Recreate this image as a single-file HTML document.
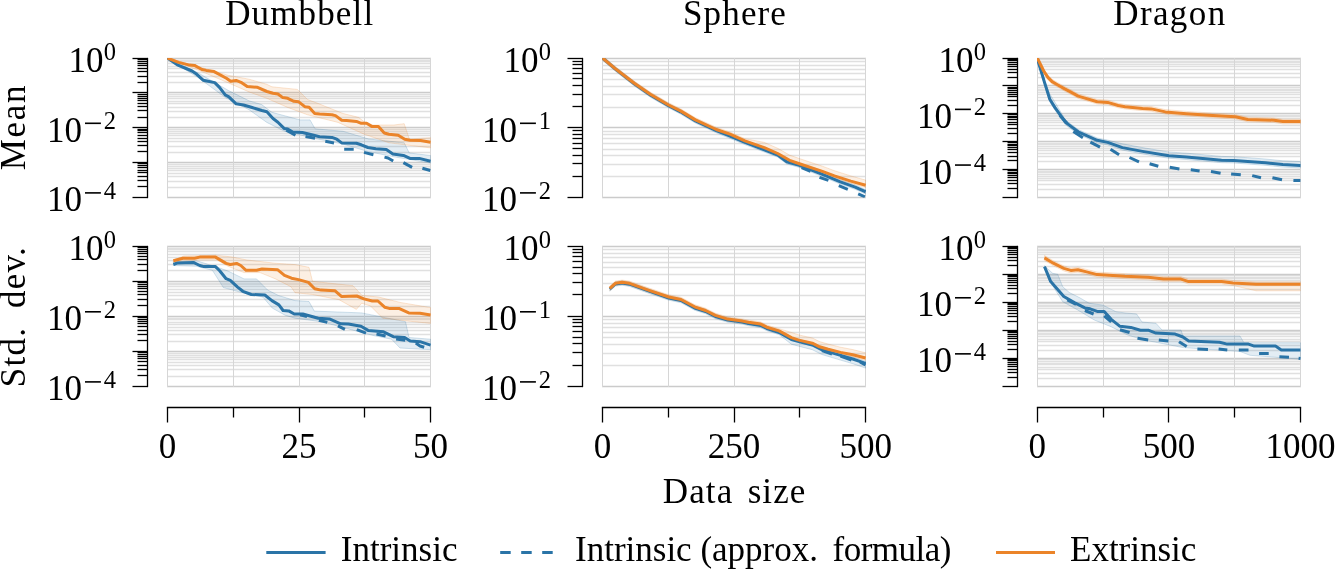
<!DOCTYPE html>
<html><head><meta charset="utf-8"><style>
html,body{margin:0;padding:0;background:#fff;width:1336px;height:570px;overflow:hidden}
svg{display:block;will-change:transform}
text{font-family:"Liberation Serif", serif;fill:#000}
</style></head><body>
<svg width="1336" height="570" viewBox="0 0 1336 570">
<line x1="167.00" x2="431.00" y1="187.50" y2="187.50" stroke="#e0e0e0" stroke-width="1.5"/>
<line x1="167.00" x2="431.00" y1="181.50" y2="181.50" stroke="#e0e0e0" stroke-width="1.5"/>
<line x1="167.00" x2="431.00" y1="176.50" y2="176.50" stroke="#e0e0e0" stroke-width="1.5"/>
<line x1="167.00" x2="431.00" y1="173.50" y2="173.50" stroke="#e0e0e0" stroke-width="1.5"/>
<line x1="167.00" x2="431.00" y1="170.50" y2="170.50" stroke="#e0e0e0" stroke-width="1.5"/>
<line x1="167.00" x2="431.00" y1="168.50" y2="168.50" stroke="#e0e0e0" stroke-width="1.5"/>
<line x1="167.00" x2="431.00" y1="166.50" y2="166.50" stroke="#e0e0e0" stroke-width="1.5"/>
<line x1="167.00" x2="431.00" y1="164.50" y2="164.50" stroke="#e0e0e0" stroke-width="1.5"/>
<line x1="167.00" x2="431.00" y1="152.50" y2="152.50" stroke="#e0e0e0" stroke-width="1.5"/>
<line x1="167.00" x2="431.00" y1="146.50" y2="146.50" stroke="#e0e0e0" stroke-width="1.5"/>
<line x1="167.00" x2="431.00" y1="141.50" y2="141.50" stroke="#e0e0e0" stroke-width="1.5"/>
<line x1="167.00" x2="431.00" y1="138.50" y2="138.50" stroke="#e0e0e0" stroke-width="1.5"/>
<line x1="167.00" x2="431.00" y1="135.50" y2="135.50" stroke="#e0e0e0" stroke-width="1.5"/>
<line x1="167.00" x2="431.00" y1="133.50" y2="133.50" stroke="#e0e0e0" stroke-width="1.5"/>
<line x1="167.00" x2="431.00" y1="131.50" y2="131.50" stroke="#e0e0e0" stroke-width="1.5"/>
<line x1="167.00" x2="431.00" y1="129.50" y2="129.50" stroke="#e0e0e0" stroke-width="1.5"/>
<line x1="167.00" x2="431.00" y1="117.50" y2="117.50" stroke="#e0e0e0" stroke-width="1.5"/>
<line x1="167.00" x2="431.00" y1="111.50" y2="111.50" stroke="#e0e0e0" stroke-width="1.5"/>
<line x1="167.00" x2="431.00" y1="107.50" y2="107.50" stroke="#e0e0e0" stroke-width="1.5"/>
<line x1="167.00" x2="431.00" y1="103.50" y2="103.50" stroke="#e0e0e0" stroke-width="1.5"/>
<line x1="167.00" x2="431.00" y1="101.50" y2="101.50" stroke="#e0e0e0" stroke-width="1.5"/>
<line x1="167.00" x2="431.00" y1="98.50" y2="98.50" stroke="#e0e0e0" stroke-width="1.5"/>
<line x1="167.00" x2="431.00" y1="96.50" y2="96.50" stroke="#e0e0e0" stroke-width="1.5"/>
<line x1="167.00" x2="431.00" y1="94.50" y2="94.50" stroke="#e0e0e0" stroke-width="1.5"/>
<line x1="167.00" x2="431.00" y1="82.50" y2="82.50" stroke="#e0e0e0" stroke-width="1.5"/>
<line x1="167.00" x2="431.00" y1="76.50" y2="76.50" stroke="#e0e0e0" stroke-width="1.5"/>
<line x1="167.00" x2="431.00" y1="72.50" y2="72.50" stroke="#e0e0e0" stroke-width="1.5"/>
<line x1="167.00" x2="431.00" y1="68.50" y2="68.50" stroke="#e0e0e0" stroke-width="1.5"/>
<line x1="167.00" x2="431.00" y1="66.50" y2="66.50" stroke="#e0e0e0" stroke-width="1.5"/>
<line x1="167.00" x2="431.00" y1="63.50" y2="63.50" stroke="#e0e0e0" stroke-width="1.5"/>
<line x1="167.00" x2="431.00" y1="61.50" y2="61.50" stroke="#e0e0e0" stroke-width="1.5"/>
<line x1="167.00" x2="431.00" y1="60.50" y2="60.50" stroke="#e0e0e0" stroke-width="1.5"/>
<line x1="167.00" x2="431.00" y1="197.50" y2="197.50" stroke="#cbcbcb" stroke-width="1.4"/>
<line x1="167.00" x2="431.00" y1="162.50" y2="162.50" stroke="#cbcbcb" stroke-width="1.4"/>
<line x1="167.00" x2="431.00" y1="127.50" y2="127.50" stroke="#cbcbcb" stroke-width="1.4"/>
<line x1="167.00" x2="431.00" y1="92.50" y2="92.50" stroke="#cbcbcb" stroke-width="1.4"/>
<line x1="167.00" x2="431.00" y1="58.50" y2="58.50" stroke="#cbcbcb" stroke-width="1.4"/>
<line x1="167.50" x2="167.50" y1="58.00" y2="198.00" stroke="#d6d6d6" stroke-width="1"/>
<line x1="233.50" x2="233.50" y1="58.00" y2="198.00" stroke="#d6d6d6" stroke-width="1"/>
<line x1="299.50" x2="299.50" y1="58.00" y2="198.00" stroke="#d6d6d6" stroke-width="1"/>
<line x1="364.50" x2="364.50" y1="58.00" y2="198.00" stroke="#d6d6d6" stroke-width="1"/>
<line x1="430.50" x2="430.50" y1="58.00" y2="198.00" stroke="#d6d6d6" stroke-width="1"/>
<line x1="147.50" x2="147.50" y1="57.85" y2="198.15" stroke="#000" stroke-width="1.3"/>
<line x1="137.50" x2="147.50" y1="186.50" y2="186.50" stroke="#000" stroke-width="1.3"/>
<line x1="137.50" x2="147.50" y1="180.50" y2="180.50" stroke="#000" stroke-width="1.3"/>
<line x1="137.50" x2="147.50" y1="176.50" y2="176.50" stroke="#000" stroke-width="1.3"/>
<line x1="137.50" x2="147.50" y1="172.50" y2="172.50" stroke="#000" stroke-width="1.3"/>
<line x1="137.50" x2="147.50" y1="170.50" y2="170.50" stroke="#000" stroke-width="1.3"/>
<line x1="137.50" x2="147.50" y1="167.50" y2="167.50" stroke="#000" stroke-width="1.3"/>
<line x1="137.50" x2="147.50" y1="165.50" y2="165.50" stroke="#000" stroke-width="1.3"/>
<line x1="137.50" x2="147.50" y1="163.50" y2="163.50" stroke="#000" stroke-width="1.3"/>
<line x1="137.50" x2="147.50" y1="151.50" y2="151.50" stroke="#000" stroke-width="1.3"/>
<line x1="137.50" x2="147.50" y1="145.50" y2="145.50" stroke="#000" stroke-width="1.3"/>
<line x1="137.50" x2="147.50" y1="141.50" y2="141.50" stroke="#000" stroke-width="1.3"/>
<line x1="137.50" x2="147.50" y1="138.50" y2="138.50" stroke="#000" stroke-width="1.3"/>
<line x1="137.50" x2="147.50" y1="135.50" y2="135.50" stroke="#000" stroke-width="1.3"/>
<line x1="137.50" x2="147.50" y1="132.50" y2="132.50" stroke="#000" stroke-width="1.3"/>
<line x1="137.50" x2="147.50" y1="130.50" y2="130.50" stroke="#000" stroke-width="1.3"/>
<line x1="137.50" x2="147.50" y1="129.50" y2="129.50" stroke="#000" stroke-width="1.3"/>
<line x1="137.50" x2="147.50" y1="117.50" y2="117.50" stroke="#000" stroke-width="1.3"/>
<line x1="137.50" x2="147.50" y1="110.50" y2="110.50" stroke="#000" stroke-width="1.3"/>
<line x1="137.50" x2="147.50" y1="106.50" y2="106.50" stroke="#000" stroke-width="1.3"/>
<line x1="137.50" x2="147.50" y1="103.50" y2="103.50" stroke="#000" stroke-width="1.3"/>
<line x1="137.50" x2="147.50" y1="100.50" y2="100.50" stroke="#000" stroke-width="1.3"/>
<line x1="137.50" x2="147.50" y1="98.50" y2="98.50" stroke="#000" stroke-width="1.3"/>
<line x1="137.50" x2="147.50" y1="96.50" y2="96.50" stroke="#000" stroke-width="1.3"/>
<line x1="137.50" x2="147.50" y1="94.50" y2="94.50" stroke="#000" stroke-width="1.3"/>
<line x1="137.50" x2="147.50" y1="82.50" y2="82.50" stroke="#000" stroke-width="1.3"/>
<line x1="137.50" x2="147.50" y1="76.50" y2="76.50" stroke="#000" stroke-width="1.3"/>
<line x1="137.50" x2="147.50" y1="71.50" y2="71.50" stroke="#000" stroke-width="1.3"/>
<line x1="137.50" x2="147.50" y1="68.50" y2="68.50" stroke="#000" stroke-width="1.3"/>
<line x1="137.50" x2="147.50" y1="65.50" y2="65.50" stroke="#000" stroke-width="1.3"/>
<line x1="137.50" x2="147.50" y1="63.50" y2="63.50" stroke="#000" stroke-width="1.3"/>
<line x1="137.50" x2="147.50" y1="61.50" y2="61.50" stroke="#000" stroke-width="1.3"/>
<line x1="137.50" x2="147.50" y1="59.50" y2="59.50" stroke="#000" stroke-width="1.3"/>
<line x1="132.50" x2="147.50" y1="197.50" y2="197.50" stroke="#000" stroke-width="1.3"/>
<line x1="132.50" x2="147.50" y1="162.50" y2="162.50" stroke="#000" stroke-width="1.3"/>
<line x1="132.50" x2="147.50" y1="127.50" y2="127.50" stroke="#000" stroke-width="1.3"/>
<line x1="132.50" x2="147.50" y1="92.50" y2="92.50" stroke="#000" stroke-width="1.3"/>
<line x1="132.50" x2="147.50" y1="58.50" y2="58.50" stroke="#000" stroke-width="1.3"/>
<text x="103.50" y="72.20" font-size="35" text-anchor="end">10</text>
<text x="116.00" y="59.60" font-size="24.5" text-anchor="end">0</text>
<text x="82.00" y="141.80" font-size="35" text-anchor="end">10</text>
<rect x="85.00" y="122.50" width="15.9" height="1.6" fill="#000"/>
<text x="116.00" y="129.20" font-size="24.5" text-anchor="end">2</text>
<text x="82.00" y="211.40" font-size="35" text-anchor="end">10</text>
<rect x="85.00" y="192.10" width="15.9" height="1.6" fill="#000"/>
<text x="116.00" y="198.80" font-size="24.5" text-anchor="end">4</text>
<line x1="602.00" x2="866.00" y1="176.50" y2="176.50" stroke="#e0e0e0" stroke-width="1.5"/>
<line x1="602.00" x2="866.00" y1="164.50" y2="164.50" stroke="#e0e0e0" stroke-width="1.5"/>
<line x1="602.00" x2="866.00" y1="155.50" y2="155.50" stroke="#e0e0e0" stroke-width="1.5"/>
<line x1="602.00" x2="866.00" y1="149.50" y2="149.50" stroke="#e0e0e0" stroke-width="1.5"/>
<line x1="602.00" x2="866.00" y1="143.50" y2="143.50" stroke="#e0e0e0" stroke-width="1.5"/>
<line x1="602.00" x2="866.00" y1="138.50" y2="138.50" stroke="#e0e0e0" stroke-width="1.5"/>
<line x1="602.00" x2="866.00" y1="134.50" y2="134.50" stroke="#e0e0e0" stroke-width="1.5"/>
<line x1="602.00" x2="866.00" y1="131.50" y2="131.50" stroke="#e0e0e0" stroke-width="1.5"/>
<line x1="602.00" x2="866.00" y1="107.50" y2="107.50" stroke="#e0e0e0" stroke-width="1.5"/>
<line x1="602.00" x2="866.00" y1="94.50" y2="94.50" stroke="#e0e0e0" stroke-width="1.5"/>
<line x1="602.00" x2="866.00" y1="86.50" y2="86.50" stroke="#e0e0e0" stroke-width="1.5"/>
<line x1="602.00" x2="866.00" y1="79.50" y2="79.50" stroke="#e0e0e0" stroke-width="1.5"/>
<line x1="602.00" x2="866.00" y1="73.50" y2="73.50" stroke="#e0e0e0" stroke-width="1.5"/>
<line x1="602.00" x2="866.00" y1="69.50" y2="69.50" stroke="#e0e0e0" stroke-width="1.5"/>
<line x1="602.00" x2="866.00" y1="65.50" y2="65.50" stroke="#e0e0e0" stroke-width="1.5"/>
<line x1="602.00" x2="866.00" y1="61.50" y2="61.50" stroke="#e0e0e0" stroke-width="1.5"/>
<line x1="602.00" x2="866.00" y1="197.50" y2="197.50" stroke="#cbcbcb" stroke-width="1.4"/>
<line x1="602.00" x2="866.00" y1="127.50" y2="127.50" stroke="#cbcbcb" stroke-width="1.4"/>
<line x1="602.00" x2="866.00" y1="58.50" y2="58.50" stroke="#cbcbcb" stroke-width="1.4"/>
<line x1="602.50" x2="602.50" y1="58.00" y2="198.00" stroke="#d6d6d6" stroke-width="1"/>
<line x1="668.50" x2="668.50" y1="58.00" y2="198.00" stroke="#d6d6d6" stroke-width="1"/>
<line x1="734.50" x2="734.50" y1="58.00" y2="198.00" stroke="#d6d6d6" stroke-width="1"/>
<line x1="799.50" x2="799.50" y1="58.00" y2="198.00" stroke="#d6d6d6" stroke-width="1"/>
<line x1="865.50" x2="865.50" y1="58.00" y2="198.00" stroke="#d6d6d6" stroke-width="1"/>
<line x1="582.50" x2="582.50" y1="57.85" y2="198.15" stroke="#000" stroke-width="1.3"/>
<line x1="572.50" x2="582.50" y1="176.50" y2="176.50" stroke="#000" stroke-width="1.3"/>
<line x1="572.50" x2="582.50" y1="163.50" y2="163.50" stroke="#000" stroke-width="1.3"/>
<line x1="572.50" x2="582.50" y1="155.50" y2="155.50" stroke="#000" stroke-width="1.3"/>
<line x1="572.50" x2="582.50" y1="148.50" y2="148.50" stroke="#000" stroke-width="1.3"/>
<line x1="572.50" x2="582.50" y1="143.50" y2="143.50" stroke="#000" stroke-width="1.3"/>
<line x1="572.50" x2="582.50" y1="138.50" y2="138.50" stroke="#000" stroke-width="1.3"/>
<line x1="572.50" x2="582.50" y1="134.50" y2="134.50" stroke="#000" stroke-width="1.3"/>
<line x1="572.50" x2="582.50" y1="130.50" y2="130.50" stroke="#000" stroke-width="1.3"/>
<line x1="572.50" x2="582.50" y1="106.50" y2="106.50" stroke="#000" stroke-width="1.3"/>
<line x1="572.50" x2="582.50" y1="94.50" y2="94.50" stroke="#000" stroke-width="1.3"/>
<line x1="572.50" x2="582.50" y1="85.50" y2="85.50" stroke="#000" stroke-width="1.3"/>
<line x1="572.50" x2="582.50" y1="78.50" y2="78.50" stroke="#000" stroke-width="1.3"/>
<line x1="572.50" x2="582.50" y1="73.50" y2="73.50" stroke="#000" stroke-width="1.3"/>
<line x1="572.50" x2="582.50" y1="68.50" y2="68.50" stroke="#000" stroke-width="1.3"/>
<line x1="572.50" x2="582.50" y1="64.50" y2="64.50" stroke="#000" stroke-width="1.3"/>
<line x1="572.50" x2="582.50" y1="61.50" y2="61.50" stroke="#000" stroke-width="1.3"/>
<line x1="567.50" x2="582.50" y1="197.50" y2="197.50" stroke="#000" stroke-width="1.3"/>
<line x1="567.50" x2="582.50" y1="127.50" y2="127.50" stroke="#000" stroke-width="1.3"/>
<line x1="567.50" x2="582.50" y1="58.50" y2="58.50" stroke="#000" stroke-width="1.3"/>
<text x="538.50" y="72.20" font-size="35" text-anchor="end">10</text>
<text x="551.00" y="59.60" font-size="24.5" text-anchor="end">0</text>
<text x="517.00" y="141.80" font-size="35" text-anchor="end">10</text>
<rect x="520.00" y="122.50" width="15.9" height="1.6" fill="#000"/>
<text x="551.00" y="129.20" font-size="24.5" text-anchor="end">1</text>
<text x="517.00" y="211.40" font-size="35" text-anchor="end">10</text>
<rect x="520.00" y="192.10" width="15.9" height="1.6" fill="#000"/>
<text x="551.00" y="198.80" font-size="24.5" text-anchor="end">2</text>
<line x1="1037.00" x2="1301.00" y1="189.50" y2="189.50" stroke="#e0e0e0" stroke-width="1.5"/>
<line x1="1037.00" x2="1301.00" y1="184.50" y2="184.50" stroke="#e0e0e0" stroke-width="1.5"/>
<line x1="1037.00" x2="1301.00" y1="180.50" y2="180.50" stroke="#e0e0e0" stroke-width="1.5"/>
<line x1="1037.00" x2="1301.00" y1="178.50" y2="178.50" stroke="#e0e0e0" stroke-width="1.5"/>
<line x1="1037.00" x2="1301.00" y1="176.50" y2="176.50" stroke="#e0e0e0" stroke-width="1.5"/>
<line x1="1037.00" x2="1301.00" y1="174.50" y2="174.50" stroke="#e0e0e0" stroke-width="1.5"/>
<line x1="1037.00" x2="1301.00" y1="172.50" y2="172.50" stroke="#e0e0e0" stroke-width="1.5"/>
<line x1="1037.00" x2="1301.00" y1="171.50" y2="171.50" stroke="#e0e0e0" stroke-width="1.5"/>
<line x1="1037.00" x2="1301.00" y1="161.50" y2="161.50" stroke="#e0e0e0" stroke-width="1.5"/>
<line x1="1037.00" x2="1301.00" y1="156.50" y2="156.50" stroke="#e0e0e0" stroke-width="1.5"/>
<line x1="1037.00" x2="1301.00" y1="153.50" y2="153.50" stroke="#e0e0e0" stroke-width="1.5"/>
<line x1="1037.00" x2="1301.00" y1="150.50" y2="150.50" stroke="#e0e0e0" stroke-width="1.5"/>
<line x1="1037.00" x2="1301.00" y1="148.50" y2="148.50" stroke="#e0e0e0" stroke-width="1.5"/>
<line x1="1037.00" x2="1301.00" y1="146.50" y2="146.50" stroke="#e0e0e0" stroke-width="1.5"/>
<line x1="1037.00" x2="1301.00" y1="144.50" y2="144.50" stroke="#e0e0e0" stroke-width="1.5"/>
<line x1="1037.00" x2="1301.00" y1="143.50" y2="143.50" stroke="#e0e0e0" stroke-width="1.5"/>
<line x1="1037.00" x2="1301.00" y1="133.50" y2="133.50" stroke="#e0e0e0" stroke-width="1.5"/>
<line x1="1037.00" x2="1301.00" y1="128.50" y2="128.50" stroke="#e0e0e0" stroke-width="1.5"/>
<line x1="1037.00" x2="1301.00" y1="125.50" y2="125.50" stroke="#e0e0e0" stroke-width="1.5"/>
<line x1="1037.00" x2="1301.00" y1="122.50" y2="122.50" stroke="#e0e0e0" stroke-width="1.5"/>
<line x1="1037.00" x2="1301.00" y1="120.50" y2="120.50" stroke="#e0e0e0" stroke-width="1.5"/>
<line x1="1037.00" x2="1301.00" y1="118.50" y2="118.50" stroke="#e0e0e0" stroke-width="1.5"/>
<line x1="1037.00" x2="1301.00" y1="116.50" y2="116.50" stroke="#e0e0e0" stroke-width="1.5"/>
<line x1="1037.00" x2="1301.00" y1="115.50" y2="115.50" stroke="#e0e0e0" stroke-width="1.5"/>
<line x1="1037.00" x2="1301.00" y1="105.50" y2="105.50" stroke="#e0e0e0" stroke-width="1.5"/>
<line x1="1037.00" x2="1301.00" y1="100.50" y2="100.50" stroke="#e0e0e0" stroke-width="1.5"/>
<line x1="1037.00" x2="1301.00" y1="97.50" y2="97.50" stroke="#e0e0e0" stroke-width="1.5"/>
<line x1="1037.00" x2="1301.00" y1="94.50" y2="94.50" stroke="#e0e0e0" stroke-width="1.5"/>
<line x1="1037.00" x2="1301.00" y1="92.50" y2="92.50" stroke="#e0e0e0" stroke-width="1.5"/>
<line x1="1037.00" x2="1301.00" y1="90.50" y2="90.50" stroke="#e0e0e0" stroke-width="1.5"/>
<line x1="1037.00" x2="1301.00" y1="89.50" y2="89.50" stroke="#e0e0e0" stroke-width="1.5"/>
<line x1="1037.00" x2="1301.00" y1="87.50" y2="87.50" stroke="#e0e0e0" stroke-width="1.5"/>
<line x1="1037.00" x2="1301.00" y1="77.50" y2="77.50" stroke="#e0e0e0" stroke-width="1.5"/>
<line x1="1037.00" x2="1301.00" y1="73.50" y2="73.50" stroke="#e0e0e0" stroke-width="1.5"/>
<line x1="1037.00" x2="1301.00" y1="69.50" y2="69.50" stroke="#e0e0e0" stroke-width="1.5"/>
<line x1="1037.00" x2="1301.00" y1="66.50" y2="66.50" stroke="#e0e0e0" stroke-width="1.5"/>
<line x1="1037.00" x2="1301.00" y1="64.50" y2="64.50" stroke="#e0e0e0" stroke-width="1.5"/>
<line x1="1037.00" x2="1301.00" y1="62.50" y2="62.50" stroke="#e0e0e0" stroke-width="1.5"/>
<line x1="1037.00" x2="1301.00" y1="61.50" y2="61.50" stroke="#e0e0e0" stroke-width="1.5"/>
<line x1="1037.00" x2="1301.00" y1="59.50" y2="59.50" stroke="#e0e0e0" stroke-width="1.5"/>
<line x1="1037.00" x2="1301.00" y1="197.50" y2="197.50" stroke="#cbcbcb" stroke-width="1.4"/>
<line x1="1037.00" x2="1301.00" y1="169.50" y2="169.50" stroke="#cbcbcb" stroke-width="1.4"/>
<line x1="1037.00" x2="1301.00" y1="141.50" y2="141.50" stroke="#cbcbcb" stroke-width="1.4"/>
<line x1="1037.00" x2="1301.00" y1="113.50" y2="113.50" stroke="#cbcbcb" stroke-width="1.4"/>
<line x1="1037.00" x2="1301.00" y1="85.50" y2="85.50" stroke="#cbcbcb" stroke-width="1.4"/>
<line x1="1037.00" x2="1301.00" y1="58.50" y2="58.50" stroke="#cbcbcb" stroke-width="1.4"/>
<line x1="1037.50" x2="1037.50" y1="58.00" y2="198.00" stroke="#d6d6d6" stroke-width="1"/>
<line x1="1103.50" x2="1103.50" y1="58.00" y2="198.00" stroke="#d6d6d6" stroke-width="1"/>
<line x1="1168.50" x2="1168.50" y1="58.00" y2="198.00" stroke="#d6d6d6" stroke-width="1"/>
<line x1="1234.50" x2="1234.50" y1="58.00" y2="198.00" stroke="#d6d6d6" stroke-width="1"/>
<line x1="1300.50" x2="1300.50" y1="58.00" y2="198.00" stroke="#d6d6d6" stroke-width="1"/>
<line x1="1017.50" x2="1017.50" y1="57.85" y2="198.15" stroke="#000" stroke-width="1.3"/>
<line x1="1007.50" x2="1017.50" y1="188.50" y2="188.50" stroke="#000" stroke-width="1.3"/>
<line x1="1007.50" x2="1017.50" y1="183.50" y2="183.50" stroke="#000" stroke-width="1.3"/>
<line x1="1007.50" x2="1017.50" y1="180.50" y2="180.50" stroke="#000" stroke-width="1.3"/>
<line x1="1007.50" x2="1017.50" y1="177.50" y2="177.50" stroke="#000" stroke-width="1.3"/>
<line x1="1007.50" x2="1017.50" y1="175.50" y2="175.50" stroke="#000" stroke-width="1.3"/>
<line x1="1007.50" x2="1017.50" y1="173.50" y2="173.50" stroke="#000" stroke-width="1.3"/>
<line x1="1007.50" x2="1017.50" y1="172.50" y2="172.50" stroke="#000" stroke-width="1.3"/>
<line x1="1007.50" x2="1017.50" y1="170.50" y2="170.50" stroke="#000" stroke-width="1.3"/>
<line x1="1007.50" x2="1017.50" y1="160.50" y2="160.50" stroke="#000" stroke-width="1.3"/>
<line x1="1007.50" x2="1017.50" y1="156.50" y2="156.50" stroke="#000" stroke-width="1.3"/>
<line x1="1007.50" x2="1017.50" y1="152.50" y2="152.50" stroke="#000" stroke-width="1.3"/>
<line x1="1007.50" x2="1017.50" y1="149.50" y2="149.50" stroke="#000" stroke-width="1.3"/>
<line x1="1007.50" x2="1017.50" y1="147.50" y2="147.50" stroke="#000" stroke-width="1.3"/>
<line x1="1007.50" x2="1017.50" y1="145.50" y2="145.50" stroke="#000" stroke-width="1.3"/>
<line x1="1007.50" x2="1017.50" y1="144.50" y2="144.50" stroke="#000" stroke-width="1.3"/>
<line x1="1007.50" x2="1017.50" y1="142.50" y2="142.50" stroke="#000" stroke-width="1.3"/>
<line x1="1007.50" x2="1017.50" y1="133.50" y2="133.50" stroke="#000" stroke-width="1.3"/>
<line x1="1007.50" x2="1017.50" y1="128.50" y2="128.50" stroke="#000" stroke-width="1.3"/>
<line x1="1007.50" x2="1017.50" y1="124.50" y2="124.50" stroke="#000" stroke-width="1.3"/>
<line x1="1007.50" x2="1017.50" y1="122.50" y2="122.50" stroke="#000" stroke-width="1.3"/>
<line x1="1007.50" x2="1017.50" y1="119.50" y2="119.50" stroke="#000" stroke-width="1.3"/>
<line x1="1007.50" x2="1017.50" y1="117.50" y2="117.50" stroke="#000" stroke-width="1.3"/>
<line x1="1007.50" x2="1017.50" y1="116.50" y2="116.50" stroke="#000" stroke-width="1.3"/>
<line x1="1007.50" x2="1017.50" y1="114.50" y2="114.50" stroke="#000" stroke-width="1.3"/>
<line x1="1007.50" x2="1017.50" y1="105.50" y2="105.50" stroke="#000" stroke-width="1.3"/>
<line x1="1007.50" x2="1017.50" y1="100.50" y2="100.50" stroke="#000" stroke-width="1.3"/>
<line x1="1007.50" x2="1017.50" y1="96.50" y2="96.50" stroke="#000" stroke-width="1.3"/>
<line x1="1007.50" x2="1017.50" y1="94.50" y2="94.50" stroke="#000" stroke-width="1.3"/>
<line x1="1007.50" x2="1017.50" y1="92.50" y2="92.50" stroke="#000" stroke-width="1.3"/>
<line x1="1007.50" x2="1017.50" y1="90.50" y2="90.50" stroke="#000" stroke-width="1.3"/>
<line x1="1007.50" x2="1017.50" y1="88.50" y2="88.50" stroke="#000" stroke-width="1.3"/>
<line x1="1007.50" x2="1017.50" y1="87.50" y2="87.50" stroke="#000" stroke-width="1.3"/>
<line x1="1007.50" x2="1017.50" y1="77.50" y2="77.50" stroke="#000" stroke-width="1.3"/>
<line x1="1007.50" x2="1017.50" y1="72.50" y2="72.50" stroke="#000" stroke-width="1.3"/>
<line x1="1007.50" x2="1017.50" y1="69.50" y2="69.50" stroke="#000" stroke-width="1.3"/>
<line x1="1007.50" x2="1017.50" y1="66.50" y2="66.50" stroke="#000" stroke-width="1.3"/>
<line x1="1007.50" x2="1017.50" y1="64.50" y2="64.50" stroke="#000" stroke-width="1.3"/>
<line x1="1007.50" x2="1017.50" y1="62.50" y2="62.50" stroke="#000" stroke-width="1.3"/>
<line x1="1007.50" x2="1017.50" y1="60.50" y2="60.50" stroke="#000" stroke-width="1.3"/>
<line x1="1007.50" x2="1017.50" y1="59.50" y2="59.50" stroke="#000" stroke-width="1.3"/>
<line x1="1002.50" x2="1017.50" y1="197.50" y2="197.50" stroke="#000" stroke-width="1.3"/>
<line x1="1002.50" x2="1017.50" y1="169.50" y2="169.50" stroke="#000" stroke-width="1.3"/>
<line x1="1002.50" x2="1017.50" y1="141.50" y2="141.50" stroke="#000" stroke-width="1.3"/>
<line x1="1002.50" x2="1017.50" y1="113.50" y2="113.50" stroke="#000" stroke-width="1.3"/>
<line x1="1002.50" x2="1017.50" y1="85.50" y2="85.50" stroke="#000" stroke-width="1.3"/>
<line x1="1002.50" x2="1017.50" y1="58.50" y2="58.50" stroke="#000" stroke-width="1.3"/>
<text x="973.50" y="72.20" font-size="35" text-anchor="end">10</text>
<text x="986.00" y="59.60" font-size="24.5" text-anchor="end">0</text>
<text x="952.00" y="127.88" font-size="35" text-anchor="end">10</text>
<rect x="955.00" y="108.58" width="15.9" height="1.6" fill="#000"/>
<text x="986.00" y="115.28" font-size="24.5" text-anchor="end">2</text>
<text x="952.00" y="183.56" font-size="35" text-anchor="end">10</text>
<rect x="955.00" y="164.26" width="15.9" height="1.6" fill="#000"/>
<text x="986.00" y="170.96" font-size="24.5" text-anchor="end">4</text>
<line x1="167.00" x2="431.00" y1="376.50" y2="376.50" stroke="#e0e0e0" stroke-width="1.5"/>
<line x1="167.00" x2="431.00" y1="369.50" y2="369.50" stroke="#e0e0e0" stroke-width="1.5"/>
<line x1="167.00" x2="431.00" y1="365.50" y2="365.50" stroke="#e0e0e0" stroke-width="1.5"/>
<line x1="167.00" x2="431.00" y1="362.50" y2="362.50" stroke="#e0e0e0" stroke-width="1.5"/>
<line x1="167.00" x2="431.00" y1="359.50" y2="359.50" stroke="#e0e0e0" stroke-width="1.5"/>
<line x1="167.00" x2="431.00" y1="357.50" y2="357.50" stroke="#e0e0e0" stroke-width="1.5"/>
<line x1="167.00" x2="431.00" y1="355.50" y2="355.50" stroke="#e0e0e0" stroke-width="1.5"/>
<line x1="167.00" x2="431.00" y1="353.50" y2="353.50" stroke="#e0e0e0" stroke-width="1.5"/>
<line x1="167.00" x2="431.00" y1="341.50" y2="341.50" stroke="#e0e0e0" stroke-width="1.5"/>
<line x1="167.00" x2="431.00" y1="334.50" y2="334.50" stroke="#e0e0e0" stroke-width="1.5"/>
<line x1="167.00" x2="431.00" y1="330.50" y2="330.50" stroke="#e0e0e0" stroke-width="1.5"/>
<line x1="167.00" x2="431.00" y1="327.50" y2="327.50" stroke="#e0e0e0" stroke-width="1.5"/>
<line x1="167.00" x2="431.00" y1="324.50" y2="324.50" stroke="#e0e0e0" stroke-width="1.5"/>
<line x1="167.00" x2="431.00" y1="322.50" y2="322.50" stroke="#e0e0e0" stroke-width="1.5"/>
<line x1="167.00" x2="431.00" y1="319.50" y2="319.50" stroke="#e0e0e0" stroke-width="1.5"/>
<line x1="167.00" x2="431.00" y1="318.50" y2="318.50" stroke="#e0e0e0" stroke-width="1.5"/>
<line x1="167.00" x2="431.00" y1="306.50" y2="306.50" stroke="#e0e0e0" stroke-width="1.5"/>
<line x1="167.00" x2="431.00" y1="299.50" y2="299.50" stroke="#e0e0e0" stroke-width="1.5"/>
<line x1="167.00" x2="431.00" y1="295.50" y2="295.50" stroke="#e0e0e0" stroke-width="1.5"/>
<line x1="167.00" x2="431.00" y1="292.50" y2="292.50" stroke="#e0e0e0" stroke-width="1.5"/>
<line x1="167.00" x2="431.00" y1="289.50" y2="289.50" stroke="#e0e0e0" stroke-width="1.5"/>
<line x1="167.00" x2="431.00" y1="286.50" y2="286.50" stroke="#e0e0e0" stroke-width="1.5"/>
<line x1="167.00" x2="431.00" y1="284.50" y2="284.50" stroke="#e0e0e0" stroke-width="1.5"/>
<line x1="167.00" x2="431.00" y1="283.50" y2="283.50" stroke="#e0e0e0" stroke-width="1.5"/>
<line x1="167.00" x2="431.00" y1="270.50" y2="270.50" stroke="#e0e0e0" stroke-width="1.5"/>
<line x1="167.00" x2="431.00" y1="264.50" y2="264.50" stroke="#e0e0e0" stroke-width="1.5"/>
<line x1="167.00" x2="431.00" y1="260.50" y2="260.50" stroke="#e0e0e0" stroke-width="1.5"/>
<line x1="167.00" x2="431.00" y1="257.50" y2="257.50" stroke="#e0e0e0" stroke-width="1.5"/>
<line x1="167.00" x2="431.00" y1="254.50" y2="254.50" stroke="#e0e0e0" stroke-width="1.5"/>
<line x1="167.00" x2="431.00" y1="251.50" y2="251.50" stroke="#e0e0e0" stroke-width="1.5"/>
<line x1="167.00" x2="431.00" y1="249.50" y2="249.50" stroke="#e0e0e0" stroke-width="1.5"/>
<line x1="167.00" x2="431.00" y1="248.50" y2="248.50" stroke="#e0e0e0" stroke-width="1.5"/>
<line x1="167.00" x2="431.00" y1="386.50" y2="386.50" stroke="#cbcbcb" stroke-width="1.4"/>
<line x1="167.00" x2="431.00" y1="351.50" y2="351.50" stroke="#cbcbcb" stroke-width="1.4"/>
<line x1="167.00" x2="431.00" y1="316.50" y2="316.50" stroke="#cbcbcb" stroke-width="1.4"/>
<line x1="167.00" x2="431.00" y1="281.50" y2="281.50" stroke="#cbcbcb" stroke-width="1.4"/>
<line x1="167.00" x2="431.00" y1="246.50" y2="246.50" stroke="#cbcbcb" stroke-width="1.4"/>
<line x1="167.50" x2="167.50" y1="246.00" y2="387.00" stroke="#d6d6d6" stroke-width="1"/>
<line x1="233.50" x2="233.50" y1="246.00" y2="387.00" stroke="#d6d6d6" stroke-width="1"/>
<line x1="299.50" x2="299.50" y1="246.00" y2="387.00" stroke="#d6d6d6" stroke-width="1"/>
<line x1="364.50" x2="364.50" y1="246.00" y2="387.00" stroke="#d6d6d6" stroke-width="1"/>
<line x1="430.50" x2="430.50" y1="246.00" y2="387.00" stroke="#d6d6d6" stroke-width="1"/>
<line x1="147.50" x2="147.50" y1="245.85" y2="387.15" stroke="#000" stroke-width="1.3"/>
<line x1="137.50" x2="147.50" y1="375.50" y2="375.50" stroke="#000" stroke-width="1.3"/>
<line x1="137.50" x2="147.50" y1="369.50" y2="369.50" stroke="#000" stroke-width="1.3"/>
<line x1="137.50" x2="147.50" y1="365.50" y2="365.50" stroke="#000" stroke-width="1.3"/>
<line x1="137.50" x2="147.50" y1="361.50" y2="361.50" stroke="#000" stroke-width="1.3"/>
<line x1="137.50" x2="147.50" y1="358.50" y2="358.50" stroke="#000" stroke-width="1.3"/>
<line x1="137.50" x2="147.50" y1="356.50" y2="356.50" stroke="#000" stroke-width="1.3"/>
<line x1="137.50" x2="147.50" y1="354.50" y2="354.50" stroke="#000" stroke-width="1.3"/>
<line x1="137.50" x2="147.50" y1="352.50" y2="352.50" stroke="#000" stroke-width="1.3"/>
<line x1="137.50" x2="147.50" y1="340.50" y2="340.50" stroke="#000" stroke-width="1.3"/>
<line x1="137.50" x2="147.50" y1="334.50" y2="334.50" stroke="#000" stroke-width="1.3"/>
<line x1="137.50" x2="147.50" y1="330.50" y2="330.50" stroke="#000" stroke-width="1.3"/>
<line x1="137.50" x2="147.50" y1="326.50" y2="326.50" stroke="#000" stroke-width="1.3"/>
<line x1="137.50" x2="147.50" y1="323.50" y2="323.50" stroke="#000" stroke-width="1.3"/>
<line x1="137.50" x2="147.50" y1="321.50" y2="321.50" stroke="#000" stroke-width="1.3"/>
<line x1="137.50" x2="147.50" y1="319.50" y2="319.50" stroke="#000" stroke-width="1.3"/>
<line x1="137.50" x2="147.50" y1="317.50" y2="317.50" stroke="#000" stroke-width="1.3"/>
<line x1="137.50" x2="147.50" y1="305.50" y2="305.50" stroke="#000" stroke-width="1.3"/>
<line x1="137.50" x2="147.50" y1="299.50" y2="299.50" stroke="#000" stroke-width="1.3"/>
<line x1="137.50" x2="147.50" y1="294.50" y2="294.50" stroke="#000" stroke-width="1.3"/>
<line x1="137.50" x2="147.50" y1="291.50" y2="291.50" stroke="#000" stroke-width="1.3"/>
<line x1="137.50" x2="147.50" y1="288.50" y2="288.50" stroke="#000" stroke-width="1.3"/>
<line x1="137.50" x2="147.50" y1="286.50" y2="286.50" stroke="#000" stroke-width="1.3"/>
<line x1="137.50" x2="147.50" y1="284.50" y2="284.50" stroke="#000" stroke-width="1.3"/>
<line x1="137.50" x2="147.50" y1="282.50" y2="282.50" stroke="#000" stroke-width="1.3"/>
<line x1="137.50" x2="147.50" y1="270.50" y2="270.50" stroke="#000" stroke-width="1.3"/>
<line x1="137.50" x2="147.50" y1="264.50" y2="264.50" stroke="#000" stroke-width="1.3"/>
<line x1="137.50" x2="147.50" y1="259.50" y2="259.50" stroke="#000" stroke-width="1.3"/>
<line x1="137.50" x2="147.50" y1="256.50" y2="256.50" stroke="#000" stroke-width="1.3"/>
<line x1="137.50" x2="147.50" y1="253.50" y2="253.50" stroke="#000" stroke-width="1.3"/>
<line x1="137.50" x2="147.50" y1="251.50" y2="251.50" stroke="#000" stroke-width="1.3"/>
<line x1="137.50" x2="147.50" y1="249.50" y2="249.50" stroke="#000" stroke-width="1.3"/>
<line x1="137.50" x2="147.50" y1="247.50" y2="247.50" stroke="#000" stroke-width="1.3"/>
<line x1="132.50" x2="147.50" y1="386.50" y2="386.50" stroke="#000" stroke-width="1.3"/>
<line x1="132.50" x2="147.50" y1="351.50" y2="351.50" stroke="#000" stroke-width="1.3"/>
<line x1="132.50" x2="147.50" y1="316.50" y2="316.50" stroke="#000" stroke-width="1.3"/>
<line x1="132.50" x2="147.50" y1="281.50" y2="281.50" stroke="#000" stroke-width="1.3"/>
<line x1="132.50" x2="147.50" y1="246.50" y2="246.50" stroke="#000" stroke-width="1.3"/>
<text x="103.50" y="260.20" font-size="35" text-anchor="end">10</text>
<text x="116.00" y="247.60" font-size="24.5" text-anchor="end">0</text>
<text x="82.00" y="330.30" font-size="35" text-anchor="end">10</text>
<rect x="85.00" y="311.00" width="15.9" height="1.6" fill="#000"/>
<text x="116.00" y="317.70" font-size="24.5" text-anchor="end">2</text>
<text x="82.00" y="400.40" font-size="35" text-anchor="end">10</text>
<rect x="85.00" y="381.10" width="15.9" height="1.6" fill="#000"/>
<text x="116.00" y="387.80" font-size="24.5" text-anchor="end">4</text>
<line x1="602.00" x2="866.00" y1="365.50" y2="365.50" stroke="#e0e0e0" stroke-width="1.5"/>
<line x1="602.00" x2="866.00" y1="353.50" y2="353.50" stroke="#e0e0e0" stroke-width="1.5"/>
<line x1="602.00" x2="866.00" y1="344.50" y2="344.50" stroke="#e0e0e0" stroke-width="1.5"/>
<line x1="602.00" x2="866.00" y1="337.50" y2="337.50" stroke="#e0e0e0" stroke-width="1.5"/>
<line x1="602.00" x2="866.00" y1="332.50" y2="332.50" stroke="#e0e0e0" stroke-width="1.5"/>
<line x1="602.00" x2="866.00" y1="327.50" y2="327.50" stroke="#e0e0e0" stroke-width="1.5"/>
<line x1="602.00" x2="866.00" y1="323.50" y2="323.50" stroke="#e0e0e0" stroke-width="1.5"/>
<line x1="602.00" x2="866.00" y1="319.50" y2="319.50" stroke="#e0e0e0" stroke-width="1.5"/>
<line x1="602.00" x2="866.00" y1="295.50" y2="295.50" stroke="#e0e0e0" stroke-width="1.5"/>
<line x1="602.00" x2="866.00" y1="283.50" y2="283.50" stroke="#e0e0e0" stroke-width="1.5"/>
<line x1="602.00" x2="866.00" y1="274.50" y2="274.50" stroke="#e0e0e0" stroke-width="1.5"/>
<line x1="602.00" x2="866.00" y1="267.50" y2="267.50" stroke="#e0e0e0" stroke-width="1.5"/>
<line x1="602.00" x2="866.00" y1="262.50" y2="262.50" stroke="#e0e0e0" stroke-width="1.5"/>
<line x1="602.00" x2="866.00" y1="257.50" y2="257.50" stroke="#e0e0e0" stroke-width="1.5"/>
<line x1="602.00" x2="866.00" y1="253.50" y2="253.50" stroke="#e0e0e0" stroke-width="1.5"/>
<line x1="602.00" x2="866.00" y1="249.50" y2="249.50" stroke="#e0e0e0" stroke-width="1.5"/>
<line x1="602.00" x2="866.00" y1="386.50" y2="386.50" stroke="#cbcbcb" stroke-width="1.4"/>
<line x1="602.00" x2="866.00" y1="316.50" y2="316.50" stroke="#cbcbcb" stroke-width="1.4"/>
<line x1="602.00" x2="866.00" y1="246.50" y2="246.50" stroke="#cbcbcb" stroke-width="1.4"/>
<line x1="602.50" x2="602.50" y1="246.00" y2="387.00" stroke="#d6d6d6" stroke-width="1"/>
<line x1="668.50" x2="668.50" y1="246.00" y2="387.00" stroke="#d6d6d6" stroke-width="1"/>
<line x1="734.50" x2="734.50" y1="246.00" y2="387.00" stroke="#d6d6d6" stroke-width="1"/>
<line x1="799.50" x2="799.50" y1="246.00" y2="387.00" stroke="#d6d6d6" stroke-width="1"/>
<line x1="865.50" x2="865.50" y1="246.00" y2="387.00" stroke="#d6d6d6" stroke-width="1"/>
<line x1="582.50" x2="582.50" y1="245.85" y2="387.15" stroke="#000" stroke-width="1.3"/>
<line x1="572.50" x2="582.50" y1="365.50" y2="365.50" stroke="#000" stroke-width="1.3"/>
<line x1="572.50" x2="582.50" y1="352.50" y2="352.50" stroke="#000" stroke-width="1.3"/>
<line x1="572.50" x2="582.50" y1="343.50" y2="343.50" stroke="#000" stroke-width="1.3"/>
<line x1="572.50" x2="582.50" y1="337.50" y2="337.50" stroke="#000" stroke-width="1.3"/>
<line x1="572.50" x2="582.50" y1="331.50" y2="331.50" stroke="#000" stroke-width="1.3"/>
<line x1="572.50" x2="582.50" y1="326.50" y2="326.50" stroke="#000" stroke-width="1.3"/>
<line x1="572.50" x2="582.50" y1="322.50" y2="322.50" stroke="#000" stroke-width="1.3"/>
<line x1="572.50" x2="582.50" y1="319.50" y2="319.50" stroke="#000" stroke-width="1.3"/>
<line x1="572.50" x2="582.50" y1="294.50" y2="294.50" stroke="#000" stroke-width="1.3"/>
<line x1="572.50" x2="582.50" y1="282.50" y2="282.50" stroke="#000" stroke-width="1.3"/>
<line x1="572.50" x2="582.50" y1="273.50" y2="273.50" stroke="#000" stroke-width="1.3"/>
<line x1="572.50" x2="582.50" y1="267.50" y2="267.50" stroke="#000" stroke-width="1.3"/>
<line x1="572.50" x2="582.50" y1="261.50" y2="261.50" stroke="#000" stroke-width="1.3"/>
<line x1="572.50" x2="582.50" y1="256.50" y2="256.50" stroke="#000" stroke-width="1.3"/>
<line x1="572.50" x2="582.50" y1="252.50" y2="252.50" stroke="#000" stroke-width="1.3"/>
<line x1="572.50" x2="582.50" y1="249.50" y2="249.50" stroke="#000" stroke-width="1.3"/>
<line x1="567.50" x2="582.50" y1="386.50" y2="386.50" stroke="#000" stroke-width="1.3"/>
<line x1="567.50" x2="582.50" y1="316.50" y2="316.50" stroke="#000" stroke-width="1.3"/>
<line x1="567.50" x2="582.50" y1="246.50" y2="246.50" stroke="#000" stroke-width="1.3"/>
<text x="538.50" y="260.20" font-size="35" text-anchor="end">10</text>
<text x="551.00" y="247.60" font-size="24.5" text-anchor="end">0</text>
<text x="517.00" y="330.30" font-size="35" text-anchor="end">10</text>
<rect x="520.00" y="311.00" width="15.9" height="1.6" fill="#000"/>
<text x="551.00" y="317.70" font-size="24.5" text-anchor="end">1</text>
<text x="517.00" y="400.40" font-size="35" text-anchor="end">10</text>
<rect x="520.00" y="381.10" width="15.9" height="1.6" fill="#000"/>
<text x="551.00" y="387.80" font-size="24.5" text-anchor="end">2</text>
<line x1="1037.00" x2="1301.00" y1="378.50" y2="378.50" stroke="#e0e0e0" stroke-width="1.5"/>
<line x1="1037.00" x2="1301.00" y1="373.50" y2="373.50" stroke="#e0e0e0" stroke-width="1.5"/>
<line x1="1037.00" x2="1301.00" y1="369.50" y2="369.50" stroke="#e0e0e0" stroke-width="1.5"/>
<line x1="1037.00" x2="1301.00" y1="367.50" y2="367.50" stroke="#e0e0e0" stroke-width="1.5"/>
<line x1="1037.00" x2="1301.00" y1="364.50" y2="364.50" stroke="#e0e0e0" stroke-width="1.5"/>
<line x1="1037.00" x2="1301.00" y1="363.50" y2="363.50" stroke="#e0e0e0" stroke-width="1.5"/>
<line x1="1037.00" x2="1301.00" y1="361.50" y2="361.50" stroke="#e0e0e0" stroke-width="1.5"/>
<line x1="1037.00" x2="1301.00" y1="359.50" y2="359.50" stroke="#e0e0e0" stroke-width="1.5"/>
<line x1="1037.00" x2="1301.00" y1="350.50" y2="350.50" stroke="#e0e0e0" stroke-width="1.5"/>
<line x1="1037.00" x2="1301.00" y1="345.50" y2="345.50" stroke="#e0e0e0" stroke-width="1.5"/>
<line x1="1037.00" x2="1301.00" y1="341.50" y2="341.50" stroke="#e0e0e0" stroke-width="1.5"/>
<line x1="1037.00" x2="1301.00" y1="339.50" y2="339.50" stroke="#e0e0e0" stroke-width="1.5"/>
<line x1="1037.00" x2="1301.00" y1="336.50" y2="336.50" stroke="#e0e0e0" stroke-width="1.5"/>
<line x1="1037.00" x2="1301.00" y1="334.50" y2="334.50" stroke="#e0e0e0" stroke-width="1.5"/>
<line x1="1037.00" x2="1301.00" y1="333.50" y2="333.50" stroke="#e0e0e0" stroke-width="1.5"/>
<line x1="1037.00" x2="1301.00" y1="331.50" y2="331.50" stroke="#e0e0e0" stroke-width="1.5"/>
<line x1="1037.00" x2="1301.00" y1="322.50" y2="322.50" stroke="#e0e0e0" stroke-width="1.5"/>
<line x1="1037.00" x2="1301.00" y1="317.50" y2="317.50" stroke="#e0e0e0" stroke-width="1.5"/>
<line x1="1037.00" x2="1301.00" y1="313.50" y2="313.50" stroke="#e0e0e0" stroke-width="1.5"/>
<line x1="1037.00" x2="1301.00" y1="311.50" y2="311.50" stroke="#e0e0e0" stroke-width="1.5"/>
<line x1="1037.00" x2="1301.00" y1="308.50" y2="308.50" stroke="#e0e0e0" stroke-width="1.5"/>
<line x1="1037.00" x2="1301.00" y1="306.50" y2="306.50" stroke="#e0e0e0" stroke-width="1.5"/>
<line x1="1037.00" x2="1301.00" y1="305.50" y2="305.50" stroke="#e0e0e0" stroke-width="1.5"/>
<line x1="1037.00" x2="1301.00" y1="303.50" y2="303.50" stroke="#e0e0e0" stroke-width="1.5"/>
<line x1="1037.00" x2="1301.00" y1="294.50" y2="294.50" stroke="#e0e0e0" stroke-width="1.5"/>
<line x1="1037.00" x2="1301.00" y1="289.50" y2="289.50" stroke="#e0e0e0" stroke-width="1.5"/>
<line x1="1037.00" x2="1301.00" y1="285.50" y2="285.50" stroke="#e0e0e0" stroke-width="1.5"/>
<line x1="1037.00" x2="1301.00" y1="282.50" y2="282.50" stroke="#e0e0e0" stroke-width="1.5"/>
<line x1="1037.00" x2="1301.00" y1="280.50" y2="280.50" stroke="#e0e0e0" stroke-width="1.5"/>
<line x1="1037.00" x2="1301.00" y1="278.50" y2="278.50" stroke="#e0e0e0" stroke-width="1.5"/>
<line x1="1037.00" x2="1301.00" y1="277.50" y2="277.50" stroke="#e0e0e0" stroke-width="1.5"/>
<line x1="1037.00" x2="1301.00" y1="275.50" y2="275.50" stroke="#e0e0e0" stroke-width="1.5"/>
<line x1="1037.00" x2="1301.00" y1="266.50" y2="266.50" stroke="#e0e0e0" stroke-width="1.5"/>
<line x1="1037.00" x2="1301.00" y1="261.50" y2="261.50" stroke="#e0e0e0" stroke-width="1.5"/>
<line x1="1037.00" x2="1301.00" y1="257.50" y2="257.50" stroke="#e0e0e0" stroke-width="1.5"/>
<line x1="1037.00" x2="1301.00" y1="254.50" y2="254.50" stroke="#e0e0e0" stroke-width="1.5"/>
<line x1="1037.00" x2="1301.00" y1="252.50" y2="252.50" stroke="#e0e0e0" stroke-width="1.5"/>
<line x1="1037.00" x2="1301.00" y1="250.50" y2="250.50" stroke="#e0e0e0" stroke-width="1.5"/>
<line x1="1037.00" x2="1301.00" y1="249.50" y2="249.50" stroke="#e0e0e0" stroke-width="1.5"/>
<line x1="1037.00" x2="1301.00" y1="247.50" y2="247.50" stroke="#e0e0e0" stroke-width="1.5"/>
<line x1="1037.00" x2="1301.00" y1="386.50" y2="386.50" stroke="#cbcbcb" stroke-width="1.4"/>
<line x1="1037.00" x2="1301.00" y1="358.50" y2="358.50" stroke="#cbcbcb" stroke-width="1.4"/>
<line x1="1037.00" x2="1301.00" y1="330.50" y2="330.50" stroke="#cbcbcb" stroke-width="1.4"/>
<line x1="1037.00" x2="1301.00" y1="302.50" y2="302.50" stroke="#cbcbcb" stroke-width="1.4"/>
<line x1="1037.00" x2="1301.00" y1="274.50" y2="274.50" stroke="#cbcbcb" stroke-width="1.4"/>
<line x1="1037.00" x2="1301.00" y1="246.50" y2="246.50" stroke="#cbcbcb" stroke-width="1.4"/>
<line x1="1037.50" x2="1037.50" y1="246.00" y2="387.00" stroke="#d6d6d6" stroke-width="1"/>
<line x1="1103.50" x2="1103.50" y1="246.00" y2="387.00" stroke="#d6d6d6" stroke-width="1"/>
<line x1="1168.50" x2="1168.50" y1="246.00" y2="387.00" stroke="#d6d6d6" stroke-width="1"/>
<line x1="1234.50" x2="1234.50" y1="246.00" y2="387.00" stroke="#d6d6d6" stroke-width="1"/>
<line x1="1300.50" x2="1300.50" y1="246.00" y2="387.00" stroke="#d6d6d6" stroke-width="1"/>
<line x1="1017.50" x2="1017.50" y1="245.85" y2="387.15" stroke="#000" stroke-width="1.3"/>
<line x1="1007.50" x2="1017.50" y1="377.50" y2="377.50" stroke="#000" stroke-width="1.3"/>
<line x1="1007.50" x2="1017.50" y1="372.50" y2="372.50" stroke="#000" stroke-width="1.3"/>
<line x1="1007.50" x2="1017.50" y1="369.50" y2="369.50" stroke="#000" stroke-width="1.3"/>
<line x1="1007.50" x2="1017.50" y1="366.50" y2="366.50" stroke="#000" stroke-width="1.3"/>
<line x1="1007.50" x2="1017.50" y1="364.50" y2="364.50" stroke="#000" stroke-width="1.3"/>
<line x1="1007.50" x2="1017.50" y1="362.50" y2="362.50" stroke="#000" stroke-width="1.3"/>
<line x1="1007.50" x2="1017.50" y1="360.50" y2="360.50" stroke="#000" stroke-width="1.3"/>
<line x1="1007.50" x2="1017.50" y1="359.50" y2="359.50" stroke="#000" stroke-width="1.3"/>
<line x1="1007.50" x2="1017.50" y1="349.50" y2="349.50" stroke="#000" stroke-width="1.3"/>
<line x1="1007.50" x2="1017.50" y1="344.50" y2="344.50" stroke="#000" stroke-width="1.3"/>
<line x1="1007.50" x2="1017.50" y1="341.50" y2="341.50" stroke="#000" stroke-width="1.3"/>
<line x1="1007.50" x2="1017.50" y1="338.50" y2="338.50" stroke="#000" stroke-width="1.3"/>
<line x1="1007.50" x2="1017.50" y1="336.50" y2="336.50" stroke="#000" stroke-width="1.3"/>
<line x1="1007.50" x2="1017.50" y1="334.50" y2="334.50" stroke="#000" stroke-width="1.3"/>
<line x1="1007.50" x2="1017.50" y1="332.50" y2="332.50" stroke="#000" stroke-width="1.3"/>
<line x1="1007.50" x2="1017.50" y1="331.50" y2="331.50" stroke="#000" stroke-width="1.3"/>
<line x1="1007.50" x2="1017.50" y1="321.50" y2="321.50" stroke="#000" stroke-width="1.3"/>
<line x1="1007.50" x2="1017.50" y1="316.50" y2="316.50" stroke="#000" stroke-width="1.3"/>
<line x1="1007.50" x2="1017.50" y1="313.50" y2="313.50" stroke="#000" stroke-width="1.3"/>
<line x1="1007.50" x2="1017.50" y1="310.50" y2="310.50" stroke="#000" stroke-width="1.3"/>
<line x1="1007.50" x2="1017.50" y1="308.50" y2="308.50" stroke="#000" stroke-width="1.3"/>
<line x1="1007.50" x2="1017.50" y1="306.50" y2="306.50" stroke="#000" stroke-width="1.3"/>
<line x1="1007.50" x2="1017.50" y1="304.50" y2="304.50" stroke="#000" stroke-width="1.3"/>
<line x1="1007.50" x2="1017.50" y1="303.50" y2="303.50" stroke="#000" stroke-width="1.3"/>
<line x1="1007.50" x2="1017.50" y1="293.50" y2="293.50" stroke="#000" stroke-width="1.3"/>
<line x1="1007.50" x2="1017.50" y1="288.50" y2="288.50" stroke="#000" stroke-width="1.3"/>
<line x1="1007.50" x2="1017.50" y1="285.50" y2="285.50" stroke="#000" stroke-width="1.3"/>
<line x1="1007.50" x2="1017.50" y1="282.50" y2="282.50" stroke="#000" stroke-width="1.3"/>
<line x1="1007.50" x2="1017.50" y1="280.50" y2="280.50" stroke="#000" stroke-width="1.3"/>
<line x1="1007.50" x2="1017.50" y1="278.50" y2="278.50" stroke="#000" stroke-width="1.3"/>
<line x1="1007.50" x2="1017.50" y1="276.50" y2="276.50" stroke="#000" stroke-width="1.3"/>
<line x1="1007.50" x2="1017.50" y1="275.50" y2="275.50" stroke="#000" stroke-width="1.3"/>
<line x1="1007.50" x2="1017.50" y1="265.50" y2="265.50" stroke="#000" stroke-width="1.3"/>
<line x1="1007.50" x2="1017.50" y1="260.50" y2="260.50" stroke="#000" stroke-width="1.3"/>
<line x1="1007.50" x2="1017.50" y1="257.50" y2="257.50" stroke="#000" stroke-width="1.3"/>
<line x1="1007.50" x2="1017.50" y1="254.50" y2="254.50" stroke="#000" stroke-width="1.3"/>
<line x1="1007.50" x2="1017.50" y1="252.50" y2="252.50" stroke="#000" stroke-width="1.3"/>
<line x1="1007.50" x2="1017.50" y1="250.50" y2="250.50" stroke="#000" stroke-width="1.3"/>
<line x1="1007.50" x2="1017.50" y1="248.50" y2="248.50" stroke="#000" stroke-width="1.3"/>
<line x1="1007.50" x2="1017.50" y1="247.50" y2="247.50" stroke="#000" stroke-width="1.3"/>
<line x1="1002.50" x2="1017.50" y1="386.50" y2="386.50" stroke="#000" stroke-width="1.3"/>
<line x1="1002.50" x2="1017.50" y1="358.50" y2="358.50" stroke="#000" stroke-width="1.3"/>
<line x1="1002.50" x2="1017.50" y1="330.50" y2="330.50" stroke="#000" stroke-width="1.3"/>
<line x1="1002.50" x2="1017.50" y1="302.50" y2="302.50" stroke="#000" stroke-width="1.3"/>
<line x1="1002.50" x2="1017.50" y1="274.50" y2="274.50" stroke="#000" stroke-width="1.3"/>
<line x1="1002.50" x2="1017.50" y1="246.50" y2="246.50" stroke="#000" stroke-width="1.3"/>
<text x="973.50" y="260.20" font-size="35" text-anchor="end">10</text>
<text x="986.00" y="247.60" font-size="24.5" text-anchor="end">0</text>
<text x="952.00" y="316.28" font-size="35" text-anchor="end">10</text>
<rect x="955.00" y="296.98" width="15.9" height="1.6" fill="#000"/>
<text x="986.00" y="303.68" font-size="24.5" text-anchor="end">2</text>
<text x="952.00" y="372.36" font-size="35" text-anchor="end">10</text>
<rect x="955.00" y="353.06" width="15.9" height="1.6" fill="#000"/>
<text x="986.00" y="359.76" font-size="24.5" text-anchor="end">4</text>
<line x1="166.85" x2="431.15" y1="407.5" y2="407.5" stroke="#000" stroke-width="1.3"/>
<line x1="167.50" x2="167.50" y1="407.5" y2="422.50" stroke="#000" stroke-width="1.3"/>
<line x1="233.50" x2="233.50" y1="407.5" y2="417.50" stroke="#000" stroke-width="1.3"/>
<line x1="299.50" x2="299.50" y1="407.5" y2="422.50" stroke="#000" stroke-width="1.3"/>
<line x1="364.50" x2="364.50" y1="407.5" y2="417.50" stroke="#000" stroke-width="1.3"/>
<line x1="430.50" x2="430.50" y1="407.5" y2="422.50" stroke="#000" stroke-width="1.3"/>
<text x="167.40" y="458.4" font-size="35" text-anchor="middle">0</text>
<text x="299.00" y="458.4" font-size="35" text-anchor="middle">25</text>
<text x="430.60" y="458.4" font-size="35" text-anchor="middle">50</text>
<line x1="601.85" x2="866.15" y1="407.5" y2="407.5" stroke="#000" stroke-width="1.3"/>
<line x1="602.50" x2="602.50" y1="407.5" y2="422.50" stroke="#000" stroke-width="1.3"/>
<line x1="668.50" x2="668.50" y1="407.5" y2="417.50" stroke="#000" stroke-width="1.3"/>
<line x1="734.50" x2="734.50" y1="407.5" y2="422.50" stroke="#000" stroke-width="1.3"/>
<line x1="799.50" x2="799.50" y1="407.5" y2="417.50" stroke="#000" stroke-width="1.3"/>
<line x1="865.50" x2="865.50" y1="407.5" y2="422.50" stroke="#000" stroke-width="1.3"/>
<text x="602.50" y="458.4" font-size="35" text-anchor="middle">0</text>
<text x="734.10" y="458.4" font-size="35" text-anchor="middle">250</text>
<text x="865.70" y="458.4" font-size="35" text-anchor="middle">500</text>
<line x1="1036.85" x2="1301.15" y1="407.5" y2="407.5" stroke="#000" stroke-width="1.3"/>
<line x1="1037.50" x2="1037.50" y1="407.5" y2="422.50" stroke="#000" stroke-width="1.3"/>
<line x1="1103.50" x2="1103.50" y1="407.5" y2="417.50" stroke="#000" stroke-width="1.3"/>
<line x1="1168.50" x2="1168.50" y1="407.5" y2="422.50" stroke="#000" stroke-width="1.3"/>
<line x1="1234.50" x2="1234.50" y1="407.5" y2="417.50" stroke="#000" stroke-width="1.3"/>
<line x1="1300.50" x2="1300.50" y1="407.5" y2="422.50" stroke="#000" stroke-width="1.3"/>
<text x="1037.30" y="458.4" font-size="35" text-anchor="middle">0</text>
<text x="1168.90" y="458.4" font-size="35" text-anchor="middle">500</text>
<text x="1300.50" y="458.4" font-size="35" text-anchor="middle">1000</text>
<text x="299.72" y="25" font-size="35" text-anchor="middle" letter-spacing="1.14">Dumbbell</text>
<text x="735.02" y="25" font-size="35" text-anchor="middle" letter-spacing="1.14">Sphere</text>
<text x="1169.90" y="25" font-size="35" text-anchor="middle" letter-spacing="1.4">Dragon</text>
<text transform="translate(25,127.06) rotate(-90)" x="0" y="0" font-size="35" text-anchor="middle" letter-spacing="1.63">Mean</text>
<text transform="translate(25,316.65) rotate(-90)" x="0" y="0" font-size="35" text-anchor="middle" letter-spacing="1.2" word-spacing="9">Std. dev.</text>
<text x="734.65" y="503" font-size="35" text-anchor="middle" letter-spacing="1.1" word-spacing="4.5">Data size</text>
<line x1="266.3" x2="325.6" y1="552.5" y2="552.5" stroke="#2a74a7" stroke-width="2.9"/>
<line x1="500.2" x2="556" y1="552.5" y2="552.5" stroke="#2a74a7" stroke-width="2.9" stroke-dasharray="10.5 10.5"/>
<line x1="996" x2="1055" y1="552.5" y2="552.5" stroke="#eb8429" stroke-width="2.9"/>
<text x="340.8" y="560.7" font-size="35">Intrinsic</text>
<text x="575" y="560.7" font-size="35">Intrinsic (approx.</text>
<text x="832.5" y="560.7" font-size="35" letter-spacing="-0.5">formula)</text>
<text x="1070" y="560.7" font-size="35">Extrinsic</text>
<defs><clipPath id="cld0"><rect x="167.10" y="58.00" width="263.80" height="139.80"/></clipPath><clipPath id="cls0"><rect x="602.20" y="58.00" width="263.80" height="139.80"/></clipPath><clipPath id="clg0"><rect x="1037.00" y="58.00" width="263.80" height="139.80"/></clipPath><clipPath id="cld1"><rect x="167.10" y="246.00" width="263.80" height="140.80"/></clipPath><clipPath id="cls1"><rect x="602.20" y="246.00" width="263.80" height="140.80"/></clipPath><clipPath id="clg1"><rect x="1037.00" y="246.00" width="263.80" height="140.80"/></clipPath></defs>
<g clip-path="url(#cld0)">
<polygon points="167.5,58.0 198.0,72.8 228.6,90.6 249.0,100.8 261.7,104.6 271.9,112.3 299.9,119.9 310.0,119.9 315.1,128.8 343.1,131.3 368.6,139.0 404.2,142.8 409.3,153.0 430.5,155.5 430.5,163.1 394.0,156.8 368.6,151.7 343.1,144.1 317.7,139.0 284.6,131.3 266.8,122.4 249.0,109.7 226.1,98.0 198.0,77.5 167.5,58.5" fill="#2a74a7" fill-opacity="0.13" stroke="#2a74a7" stroke-opacity="0.2" stroke-width="1"/>
<polygon points="167.5,58.0 198.0,66.5 228.6,75.4 249.0,79.2 266.8,84.3 271.9,86.8 297.3,89.4 307.5,99.5 317.7,103.3 343.1,113.5 358.4,117.3 368.6,125.0 394.0,125.0 404.2,123.7 409.3,139.0 430.5,137.7 430.5,147.9 409.3,145.3 388.9,142.8 363.5,133.9 338.0,122.4 307.5,114.8 287.1,107.2 266.8,98.3 249.0,91.9 228.6,83.0 198.0,70.0 167.5,58.5" fill="#eb8429" fill-opacity="0.13" stroke="#eb8429" stroke-opacity="0.2" stroke-width="1"/>
</g>
<g clip-path="url(#cls0)">
<polygon points="602.5,55.8 614.9,66.4 634.3,81.6 650.7,93.0 668.6,103.4 680.5,109.6 695.4,118.7 716.3,128.4 730.0,134.0 744.9,140.2 764.3,147.6 777.7,152.8 786.7,159.5 800.1,163.3 822.4,172.2 840.3,179.7 855.2,184.9 865.6,189.6 865.6,194.0 855.2,189.3 840.3,184.1 822.4,176.6 800.1,167.7 786.7,163.9 777.7,157.2 764.3,152.0 744.9,144.6 730.0,138.4 716.3,132.8 695.4,123.1 680.5,114.0 668.6,107.8 650.7,97.4 634.3,86.0 614.9,70.8 602.5,60.2" fill="#2a74a7" fill-opacity="0.13" stroke="#2a74a7" stroke-opacity="0.2" stroke-width="1"/>
<polygon points="602.5,55.8 614.9,66.2 634.3,81.1 650.7,92.3 668.6,102.8 680.5,108.7 695.4,117.7 716.3,127.3 730.0,132.0 744.9,138.7 764.3,142.4 777.7,148.3 789.6,155.1 800.1,158.8 822.4,166.2 834.4,170.7 850.8,175.9 865.6,180.1 865.6,187.5 850.8,183.3 834.4,178.1 822.4,173.6 800.1,166.2 789.6,162.5 777.7,155.7 764.3,149.8 744.9,143.1 730.0,136.4 716.3,131.7 695.4,122.1 680.5,113.1 668.6,107.2 650.7,96.7 634.3,85.5 614.9,70.6 602.5,60.2" fill="#eb8429" fill-opacity="0.13" stroke="#eb8429" stroke-opacity="0.2" stroke-width="1"/>
</g>
<g clip-path="url(#clg0)">
<polygon points="1037.3,56.2 1044.5,80.1 1049.8,93.9 1055.0,102.3 1065.6,120.1 1078.2,129.5 1097.2,138.0 1107.7,140.1 1122.4,143.8 1142.5,147.6 1168.9,152.0 1186.4,153.2 1221.5,156.4 1233.8,156.7 1265.4,159.0 1282.9,160.8 1300.6,161.6 1300.6,167.9 1282.9,167.1 1265.4,165.3 1233.8,163.0 1221.5,162.7 1186.4,159.5 1168.9,158.3 1142.5,153.9 1122.4,150.1 1107.7,144.9 1097.2,142.8 1078.2,134.3 1065.6,124.9 1055.0,110.1 1049.8,101.7 1044.5,84.9 1037.3,61.0" fill="#2a74a7" fill-opacity="0.13" stroke="#2a74a7" stroke-opacity="0.2" stroke-width="1"/>
<polygon points="1037.3,55.7 1041.0,63.2 1043.7,68.7 1047.9,75.1 1052.1,79.3 1057.4,82.4 1064.7,86.6 1070.0,89.3 1078.2,93.8 1097.2,99.4 1107.7,100.1 1118.2,103.2 1125.0,104.4 1142.5,106.1 1151.3,106.6 1165.4,109.6 1186.4,111.4 1212.7,113.1 1235.5,114.4 1247.8,117.2 1274.1,117.9 1282.9,119.3 1300.6,119.3 1300.6,123.9 1282.9,123.9 1274.1,122.5 1247.8,121.8 1235.5,119.0 1212.7,117.7 1186.4,116.0 1165.4,114.2 1151.3,111.2 1142.5,110.7 1125.0,109.0 1118.2,107.8 1107.7,104.7 1097.2,104.0 1078.2,98.4 1070.0,93.9 1064.7,91.2 1057.4,87.0 1052.1,83.9 1047.9,79.7 1043.7,73.3 1041.0,67.8 1037.3,60.3" fill="#eb8429" fill-opacity="0.13" stroke="#eb8429" stroke-opacity="0.2" stroke-width="1"/>
</g>
<g clip-path="url(#cld1)">
<polygon points="173.4,261.6 196.6,260.8 217.0,267.1 228.0,271.0 244.0,278.9 256.5,278.9 267.6,290.0 278.6,295.5 295.0,300.6 309.0,301.5 314.3,311.1 361.7,312.9 405.5,321.7 409.0,337.5 430.5,339.2 430.5,349.7 400.0,348.0 391.5,339.2 374.0,335.7 347.6,328.7 321.3,321.7 295.0,318.2 285.0,315.2 272.3,308.1 262.9,297.1 244.0,293.1 223.4,287.6 212.4,270.3 196.6,266.3 173.4,265.5" fill="#2a74a7" fill-opacity="0.13" stroke="#2a74a7" stroke-opacity="0.2" stroke-width="1"/>
<polygon points="173.4,260.0 184.0,256.0 215.5,255.3 231.0,256.8 247.0,260.0 275.0,263.2 295.0,264.6 309.0,267.3 312.5,281.3 353.0,285.7 362.0,295.4 379.0,297.1 400.0,302.4 430.5,307.6 430.5,323.4 405.5,320.8 382.7,318.2 370.4,305.9 361.7,303.2 356.4,309.4 339.0,299.7 312.5,294.5 295.0,292.7 291.0,286.8 275.5,278.9 260.0,272.6 244.0,272.6 228.0,266.3 217.0,260.0 196.6,260.0 173.4,262.4" fill="#eb8429" fill-opacity="0.13" stroke="#eb8429" stroke-opacity="0.2" stroke-width="1"/>
</g>
<g clip-path="url(#cls1)">
<polygon points="609.8,286.8 615.4,281.8 622.1,280.8 629.5,282.0 649.1,289.0 668.8,295.8 681.0,298.3 694.6,305.8 705.6,309.3 715.4,314.3 727.7,317.8 742.3,319.8 748.4,321.3 760.7,323.3 766.8,326.3 779.1,330.3 791.4,337.3 798.8,339.3 812.3,342.8 822.1,347.7 840.5,353.2 852.8,356.8 865.6,361.2 865.6,368.1 852.8,363.7 840.5,360.1 822.1,354.6 812.3,349.7 798.8,346.2 791.4,344.2 779.1,334.7 766.8,330.7 760.7,327.7 748.4,325.7 742.3,324.2 727.7,322.2 715.4,318.7 705.6,313.7 694.6,310.2 681.0,302.7 668.8,300.2 649.1,293.4 629.5,286.4 622.1,285.2 615.4,286.2 609.8,291.2" fill="#2a74a7" fill-opacity="0.13" stroke="#2a74a7" stroke-opacity="0.2" stroke-width="1"/>
<polygon points="609.8,286.2 615.4,281.1 622.1,280.1 629.5,281.1 649.1,288.1 668.8,294.8 681.0,297.3 694.6,304.6 705.6,308.3 715.4,313.2 727.7,316.9 742.3,318.9 748.4,320.1 760.7,321.9 766.8,325.0 779.1,328.7 791.4,332.4 798.8,334.9 812.3,338.0 819.6,341.6 828.2,344.1 840.5,347.2 852.8,349.6 865.6,352.8 865.6,360.2 852.8,357.0 840.5,354.6 828.2,351.5 819.6,349.0 812.3,345.4 798.8,342.3 791.4,339.8 779.1,333.1 766.8,329.4 760.7,326.3 748.4,324.5 742.3,323.3 727.7,321.3 715.4,317.6 705.6,312.7 694.6,309.0 681.0,301.7 668.8,299.2 649.1,292.5 629.5,285.5 622.1,284.5 615.4,285.5 609.8,290.6" fill="#eb8429" fill-opacity="0.13" stroke="#eb8429" stroke-opacity="0.2" stroke-width="1"/>
</g>
<g clip-path="url(#clg1)">
<polygon points="1044.5,265.8 1052.7,273.3 1057.7,274.2 1062.7,286.7 1069.3,292.5 1079.3,297.5 1089.3,303.3 1102.7,305.0 1116.0,311.7 1125.0,312.9 1136.6,314.0 1142.0,322.0 1156.0,323.3 1162.0,330.0 1181.0,330.0 1183.0,336.0 1240.0,336.0 1244.0,342.8 1300.5,342.8 1300.5,359.2 1250.0,355.3 1240.0,351.5 1183.0,347.6 1144.3,340.0 1127.7,335.0 1111.0,326.7 1094.3,320.0 1077.7,310.0 1062.7,301.7 1052.7,285.8 1044.5,268.3" fill="#2a74a7" fill-opacity="0.13" stroke="#2a74a7" stroke-opacity="0.2" stroke-width="1"/>
<polygon points="1044.5,255.4 1053.3,260.7 1063.8,265.9 1070.8,267.9 1077.9,267.2 1086.6,269.4 1097.2,272.1 1113.0,272.9 1125.0,273.7 1148.2,274.7 1163.6,276.6 1181.0,276.6 1188.7,279.1 1221.5,279.1 1233.0,280.5 1256.2,281.8 1300.6,281.8 1300.6,290.8 1256.2,290.8 1233.0,285.5 1221.5,284.1 1188.7,284.1 1181.0,281.6 1163.6,281.6 1148.2,279.7 1125.0,278.7 1113.0,277.9 1097.2,277.1 1086.6,274.4 1077.9,272.2 1070.8,272.9 1063.8,270.9 1053.3,265.7 1044.5,260.4" fill="#eb8429" fill-opacity="0.13" stroke="#eb8429" stroke-opacity="0.2" stroke-width="1"/>
</g>
<g clip-path="url(#cld0)">
<polyline points="286.3,130.2 295.4,135.3" fill="none" stroke="#2a74a7" stroke-width="3.0" stroke-linejoin="round"/>
<polyline points="305.5,136.6 315.0,138.2" fill="none" stroke="#2a74a7" stroke-width="3.0" stroke-linejoin="round"/>
<polyline points="325.3,141.3 334.0,142.9" fill="none" stroke="#2a74a7" stroke-width="3.0" stroke-linejoin="round"/>
<polyline points="344.2,149.2 353.7,149.2" fill="none" stroke="#2a74a7" stroke-width="3.0" stroke-linejoin="round"/>
<polyline points="364.0,152.4 373.4,154.7" fill="none" stroke="#2a74a7" stroke-width="3.0" stroke-linejoin="round"/>
<polyline points="384.5,157.1 388.0,158.0 393.2,161.0" fill="none" stroke="#2a74a7" stroke-width="3.0" stroke-linejoin="round"/>
<polyline points="403.4,162.6 412.1,167.4" fill="none" stroke="#2a74a7" stroke-width="3.0" stroke-linejoin="round"/>
<polyline points="422.4,168.2 430.3,170.5" fill="none" stroke="#2a74a7" stroke-width="3.0" stroke-linejoin="round"/>
<polyline points="167.4,58.0 177.3,64.8 192.0,71.0 195.7,73.4 203.1,80.2 206.8,81.0 214.8,82.6 219.7,87.6 225.2,94.9 228.9,96.8 236.1,103.8 243.5,105.0 252.1,107.5 261.9,110.5 266.9,111.8 273.0,118.5 277.9,122.2 284.1,128.4 287.7,129.0 292.7,132.0 302.4,132.5 309.7,134.3 319.6,136.8 331.9,137.4 336.8,139.2 341.7,142.9 356.4,143.2 361.3,144.8 367.9,147.5 375.8,148.8 386.3,149.5 392.9,154.1 403.4,155.4 410.0,158.4 419.2,158.4 430.6,161.3" fill="none" stroke="#2a74a7" stroke-width="3.0" stroke-linejoin="round"/>
<polyline points="167.4,58.0 178.5,62.4 189.6,65.1 194.5,65.4 201.9,69.5 206.2,70.4 214.1,71.6 226.4,78.3 230.7,81.2 236.1,80.4 241.0,82.3 247.2,86.6 257.0,87.2 266.9,91.5 273.0,93.3 277.9,94.0 282.8,97.6 287.7,98.3 293.9,101.3 298.7,101.8 304.8,106.7 309.1,107.3 314.7,113.4 319.6,114.0 331.9,114.7 335.5,115.6 341.7,120.2 346.6,120.6 356.4,121.4 361.3,123.3 366.6,123.2 371.8,126.4 378.4,126.4 384.3,133.0 388.9,134.3 398.2,135.3 404.7,139.2 410.0,140.3 420.5,140.5 430.6,142.2" fill="none" stroke="#eb8429" stroke-width="3.0" stroke-linejoin="round"/>
</g>
<g clip-path="url(#cls0)">
<polyline points="801.6,167.7 810.5,171.4" fill="none" stroke="#2a74a7" stroke-width="3.0" stroke-linejoin="round"/>
<polyline points="819.5,177.4 828.4,180.4" fill="none" stroke="#2a74a7" stroke-width="3.0" stroke-linejoin="round"/>
<polyline points="838.8,185.6 847.8,189.3" fill="none" stroke="#2a74a7" stroke-width="3.0" stroke-linejoin="round"/>
<polyline points="858.2,193.8 864.9,196.8" fill="none" stroke="#2a74a7" stroke-width="3.0" stroke-linejoin="round"/>
<polyline points="602.5,58.0 614.9,68.6 634.3,83.8 650.7,95.2 668.6,105.6 680.5,111.8 695.4,120.9 716.3,130.6 730.0,136.2 744.9,142.4 764.3,149.8 777.7,155.0 786.7,161.7 800.1,165.5 822.4,174.4 840.3,181.9 855.2,187.1 865.6,191.8" fill="none" stroke="#2a74a7" stroke-width="3.0" stroke-linejoin="round"/>
<polyline points="602.5,58.0 614.9,68.4 634.3,83.3 650.7,94.5 668.6,105.0 680.5,110.9 695.4,119.9 716.3,129.5 730.0,134.2 744.9,140.9 764.3,147.6 777.7,153.5 789.6,160.3 800.1,164.0 822.4,171.4 834.4,175.9 850.8,181.1 865.6,185.3" fill="none" stroke="#eb8429" stroke-width="3.0" stroke-linejoin="round"/>
</g>
<g clip-path="url(#clg0)">
<polyline points="1059.8,115.5 1067.3,123.6" fill="none" stroke="#2a74a7" stroke-width="3.0" stroke-linejoin="round"/>
<polyline points="1073.3,131.6 1082.9,137.7" fill="none" stroke="#2a74a7" stroke-width="3.0" stroke-linejoin="round"/>
<polyline points="1090.4,142.2 1100.0,147.2" fill="none" stroke="#2a74a7" stroke-width="3.0" stroke-linejoin="round"/>
<polyline points="1110.5,149.2 1119.1,154.8" fill="none" stroke="#2a74a7" stroke-width="3.0" stroke-linejoin="round"/>
<polyline points="1129.5,157.5 1139.0,161.9" fill="none" stroke="#2a74a7" stroke-width="3.0" stroke-linejoin="round"/>
<polyline points="1149.6,163.7 1158.3,166.3" fill="none" stroke="#2a74a7" stroke-width="3.0" stroke-linejoin="round"/>
<polyline points="1169.7,167.2 1179.4,168.9" fill="none" stroke="#2a74a7" stroke-width="3.0" stroke-linejoin="round"/>
<polyline points="1190.8,169.8 1199.6,171.1" fill="none" stroke="#2a74a7" stroke-width="3.0" stroke-linejoin="round"/>
<polyline points="1211.0,171.6 1220.6,173.3" fill="none" stroke="#2a74a7" stroke-width="3.0" stroke-linejoin="round"/>
<polyline points="1231.1,173.9 1240.8,174.7" fill="none" stroke="#2a74a7" stroke-width="3.0" stroke-linejoin="round"/>
<polyline points="1252.2,175.6 1261.0,177.7" fill="none" stroke="#2a74a7" stroke-width="3.0" stroke-linejoin="round"/>
<polyline points="1272.4,177.7 1282.0,179.8" fill="none" stroke="#2a74a7" stroke-width="3.0" stroke-linejoin="round"/>
<polyline points="1293.4,180.4 1300.5,180.6" fill="none" stroke="#2a74a7" stroke-width="3.0" stroke-linejoin="round"/>
<polyline points="1037.3,58.5 1044.5,82.4 1049.8,99.2 1055.0,107.6 1065.6,122.4 1078.2,131.8 1097.2,140.3 1107.7,142.4 1122.4,147.6 1142.5,151.4 1168.9,155.8 1186.4,157.0 1221.5,160.2 1233.8,160.5 1265.4,162.8 1282.9,164.6 1300.6,165.4" fill="none" stroke="#2a74a7" stroke-width="3.0" stroke-linejoin="round"/>
<polyline points="1037.3,58.0 1041.0,65.5 1043.7,71.0 1047.9,77.4 1052.1,81.6 1057.4,84.7 1064.7,88.9 1070.0,91.6 1078.2,96.1 1097.2,101.7 1107.7,102.4 1118.2,105.5 1125.0,106.7 1142.5,108.4 1151.3,108.9 1165.4,111.9 1186.4,113.7 1212.7,115.4 1235.5,116.7 1247.8,119.5 1274.1,120.2 1282.9,121.6 1300.6,121.6" fill="none" stroke="#eb8429" stroke-width="3.0" stroke-linejoin="round"/>
</g>
<g clip-path="url(#cld1)">
<polyline points="300.0,314.7 307.0,316.5" fill="none" stroke="#2a74a7" stroke-width="3.0" stroke-linejoin="round"/>
<polyline points="318.9,320.3 327.3,322.4" fill="none" stroke="#2a74a7" stroke-width="3.0" stroke-linejoin="round"/>
<polyline points="337.9,325.9 344.9,329.4" fill="none" stroke="#2a74a7" stroke-width="3.0" stroke-linejoin="round"/>
<polyline points="356.8,329.7 366.0,333.2" fill="none" stroke="#2a74a7" stroke-width="3.0" stroke-linejoin="round"/>
<polyline points="376.5,334.0 385.6,336.0" fill="none" stroke="#2a74a7" stroke-width="3.0" stroke-linejoin="round"/>
<polyline points="396.1,338.9 405.3,340.3" fill="none" stroke="#2a74a7" stroke-width="3.0" stroke-linejoin="round"/>
<polyline points="415.8,343.1 420.0,346.0 424.2,347.3" fill="none" stroke="#2a74a7" stroke-width="3.0" stroke-linejoin="round"/>
<polyline points="173.4,264.5 177.6,262.9 193.4,262.4 199.7,265.5 203.9,266.6 215.5,266.6 219.7,270.8 226.1,278.7 230.3,280.3 237.6,287.1 242.9,291.3 251.3,294.5 264.8,295.0 271.9,300.6 278.9,304.9 283.1,310.5 288.7,310.9 294.3,314.0 302.8,314.0 318.2,318.2 329.4,318.9 340.7,323.8 348.4,324.1 361.0,326.2 368.1,330.4 383.5,331.8 393.3,336.7 404.6,337.4 410.2,341.0 420.0,341.7 430.6,345.2" fill="none" stroke="#2a74a7" stroke-width="3.0" stroke-linejoin="round"/>
<polyline points="173.4,260.8 182.9,258.2 194.5,258.2 199.7,257.1 215.5,257.1 226.1,263.4 230.3,264.5 236.6,263.4 240.8,265.5 246.1,270.3 256.6,270.3 262.0,269.0 277.5,269.7 284.5,275.4 291.5,278.2 298.5,279.6 308.4,282.4 314.7,288.7 321.0,290.1 335.1,290.8 341.4,296.4 356.8,296.0 363.9,298.9 372.3,301.0 377.9,301.0 384.9,307.3 389.1,308.4 398.9,308.4 408.8,312.9 420.0,313.2 430.6,315.0" fill="none" stroke="#eb8429" stroke-width="3.0" stroke-linejoin="round"/>
</g>
<g clip-path="url(#cls1)">
<polyline points="822.0,350.5 832.0,354.0" fill="none" stroke="#2a74a7" stroke-width="3.0" stroke-linejoin="round"/>
<polyline points="840.5,356.0 851.5,360.0" fill="none" stroke="#2a74a7" stroke-width="3.0" stroke-linejoin="round"/>
<polyline points="860.0,362.0 865.5,365.0" fill="none" stroke="#2a74a7" stroke-width="3.0" stroke-linejoin="round"/>
<polyline points="609.8,289.0 615.4,284.0 622.1,283.0 629.5,284.2 649.1,291.2 668.8,298.0 681.0,300.5 694.6,308.0 705.6,311.5 715.4,316.5 727.7,320.0 742.3,322.0 748.4,323.5 760.7,325.5 766.8,328.5 779.1,332.5 791.4,339.5 798.8,341.5 812.3,345.0 822.1,349.9 840.5,355.4 852.8,359.0 865.6,363.4" fill="none" stroke="#2a74a7" stroke-width="3.0" stroke-linejoin="round"/>
<polyline points="609.8,288.4 615.4,283.3 622.1,282.3 629.5,283.3 649.1,290.3 668.8,297.0 681.0,299.5 694.6,306.8 705.6,310.5 715.4,315.4 727.7,319.1 742.3,321.1 748.4,322.3 760.7,324.1 766.8,327.2 779.1,330.9 791.4,337.6 798.8,340.1 812.3,343.2 819.6,346.8 828.2,349.3 840.5,352.4 852.8,354.8 865.6,358.0" fill="none" stroke="#eb8429" stroke-width="3.0" stroke-linejoin="round"/>
</g>
<g clip-path="url(#clg1)">
<polyline points="1067.3,300.0 1076.1,304.4" fill="none" stroke="#2a74a7" stroke-width="3.0" stroke-linejoin="round"/>
<polyline points="1084.9,310.5 1093.6,314.0" fill="none" stroke="#2a74a7" stroke-width="3.0" stroke-linejoin="round"/>
<polyline points="1104.2,315.8 1111.2,322.0" fill="none" stroke="#2a74a7" stroke-width="3.0" stroke-linejoin="round"/>
<polyline points="1120.0,329.8 1129.6,332.5" fill="none" stroke="#2a74a7" stroke-width="3.0" stroke-linejoin="round"/>
<polyline points="1137.5,338.3 1148.2,339.9" fill="none" stroke="#2a74a7" stroke-width="3.0" stroke-linejoin="round"/>
<polyline points="1158.8,339.9 1168.4,340.9" fill="none" stroke="#2a74a7" stroke-width="3.0" stroke-linejoin="round"/>
<polyline points="1179.0,341.8 1186.7,346.6" fill="none" stroke="#2a74a7" stroke-width="3.0" stroke-linejoin="round"/>
<polyline points="1197.4,349.0 1208.0,349.5" fill="none" stroke="#2a74a7" stroke-width="3.0" stroke-linejoin="round"/>
<polyline points="1218.6,349.0 1227.3,349.9" fill="none" stroke="#2a74a7" stroke-width="3.0" stroke-linejoin="round"/>
<polyline points="1238.8,350.1 1248.5,350.1" fill="none" stroke="#2a74a7" stroke-width="3.0" stroke-linejoin="round"/>
<polyline points="1259.1,353.4 1268.7,353.4" fill="none" stroke="#2a74a7" stroke-width="3.0" stroke-linejoin="round"/>
<polyline points="1279.4,356.7 1289.0,357.3" fill="none" stroke="#2a74a7" stroke-width="3.0" stroke-linejoin="round"/>
<polyline points="1298.6,358.2 1300.5,358.4" fill="none" stroke="#2a74a7" stroke-width="3.0" stroke-linejoin="round"/>
<polyline points="1044.5,266.7 1050.7,281.6 1056.8,288.6 1063.8,296.5 1074.4,302.6 1084.9,307.9 1090.1,308.8 1097.2,311.4 1104.2,311.4 1111.2,319.3 1120.0,326.3 1130.8,327.4 1140.4,330.2 1148.2,330.2 1155.9,333.1 1175.2,334.1 1182.9,337.0 1188.7,340.9 1219.5,342.2 1227.3,344.1 1248.5,344.1 1254.3,346.1 1275.5,346.1 1281.3,349.9 1300.6,349.9" fill="none" stroke="#2a74a7" stroke-width="3.0" stroke-linejoin="round"/>
<polyline points="1044.5,257.9 1053.3,263.2 1063.8,268.4 1070.8,270.4 1077.9,269.7 1086.6,271.9 1097.2,274.6 1113.0,275.4 1125.0,276.2 1148.2,277.2 1163.6,279.1 1181.0,279.1 1188.7,281.6 1221.5,281.6 1233.0,283.0 1256.2,284.3 1300.6,284.3" fill="none" stroke="#eb8429" stroke-width="3.0" stroke-linejoin="round"/>
</g>
</svg></body></html>
